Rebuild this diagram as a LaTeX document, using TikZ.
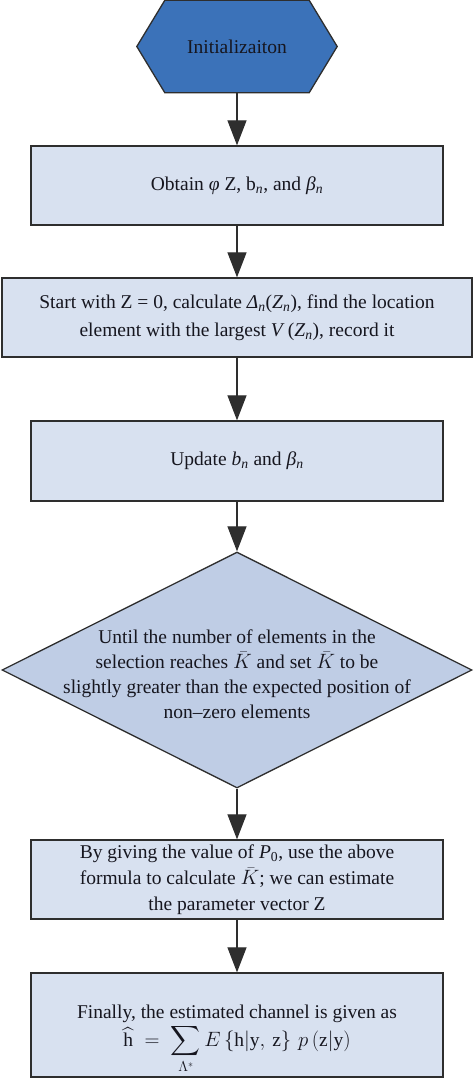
\documentclass[tikz,border=0pt]{standalone}
\usepackage{amsmath}
\usepackage{fontspec}
\setmainfont{Liberation Serif}
\usetikzlibrary{arrows.meta,shapes.geometric}
\definecolor{hexblue}{HTML}{3B72B9}
\definecolor{boxfill}{HTML}{D8E1F0}
\definecolor{diafill}{HTML}{BFCDE5}
\definecolor{edgec}{HTML}{2E2E2E}
\definecolor{txt}{HTML}{16161F}
\pgfdeclarelayer{background}
\pgfsetlayers{background,main}
\newcommand{\ita}[1]{\textit{#1}}
\newcommand{\sbn}{\textsubscript{\textit{n}}}
\begin{document}
\begin{tikzpicture}[x=1pt,y=-1pt,
  lbl/.style={font=\fontsize{19.5}{25}\selectfont, text=txt, align=flush center},
  stepbox/.style={lbl, draw=edgec, line width=1.3pt, fill=boxfill, minimum width=412pt, minimum height=79pt, inner sep=0pt, text width=405pt},
  flow/.style={draw=edgec, line width=1.2pt, -{Triangle[length=25pt,width=19pt]}},
]
\useasboundingbox (0,0) rectangle (474,1078);

\node (init) at (237,46.5) [lbl, minimum width=200pt, minimum height=92pt, inner sep=0pt] {Initializaiton};
\begin{pgfonlayer}{background}
\path[fill=hexblue, draw=edgec, line width=1.3pt] (init.west) -- ([xshift=28pt]init.north west) -- ([xshift=-28pt]init.north east) -- (init.east) -- ([xshift=-28pt]init.south east) -- ([xshift=28pt]init.south west) -- cycle;
\end{pgfonlayer}

\node (b1) at (237,185.5) [stepbox] {Obtain \ita{φ} Z, b\sbn, and \ita{β}\sbn};

\node (b2) at (237,317.5) [stepbox, minimum width=470pt, text width=465pt, font=\fontsize{19.5}{28}\selectfont] {Start with Z = 0, calculate \ita{Δ}\sbn(\ita{Z}\sbn), find the location\\ element with the largest \ita{V}\,(\ita{Z}\sbn), record it};

\node (b3) at (237,461) [stepbox, minimum height=80pt] {Update \ita{b}\sbn\ and \ita{β}\sbn};

\node (dia) at (237,670) [diamond, aspect=2, draw=edgec, line width=1.3pt, fill=diafill, minimum width=470pt, minimum height=236pt, inner sep=0pt] {};
\node (diat) at ([yshift=-4pt]dia.center) [lbl] {Until the number of elements in the\\ selection reaches $\bar{K}$ and set $\bar{K}$ to be\\ slightly greater than the expected position of\\ non–zero elements};

\node (b5) at (237,879.5) [stepbox, font=\fontsize{19.5}{26}\selectfont] {By giving the value of \ita{P}\textsubscript{0}, use the above\\ formula to calculate $\bar{K}$; we can estimate\\ the parameter vector Z};

\node (b6) at (237,1025) [stepbox, minimum height=104pt] {\rule{0pt}{42pt}Finally, the estimated channel is given as\\[1pt] $\displaystyle \widehat{\mathrm{h}} \;=\; \sum_{\Lambda^*} E\left\{\mathrm{h}|\mathrm{y},\,\mathrm{z}\right\}\,p\,(\mathrm{z}|\mathrm{y})$};

\draw[flow] (init) -- (b1);
\draw[flow] (b1) -- (b2);
\draw[flow] (b2) -- (b3);
\draw[flow] (b3) -- (dia);
\draw[flow] (dia) -- (b5);
\draw[flow] (b5) -- (b6);
\end{tikzpicture}
\end{document}
